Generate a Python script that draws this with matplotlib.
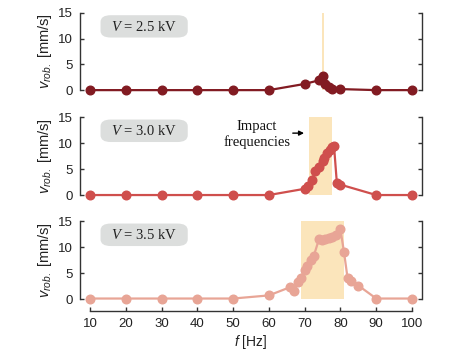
import matplotlib
matplotlib.use('Agg')
import matplotlib.pyplot as plt
from matplotlib.patches import FancyBboxPatch

plt.rcParams['font.family'] = 'Liberation Sans'
plt.rcParams['mathtext.fontset'] = 'custom'
plt.rcParams['mathtext.rm'] = 'Liberation Sans'
plt.rcParams['mathtext.it'] = 'Liberation Sans:italic'
plt.rcParams['mathtext.cal'] = 'Liberation Serif:italic'

# data
f1 = [10, 20, 30, 40, 50, 60, 70, 74, 75.2, 75.8, 76.7, 77.6, 80, 90, 100]
v1 = [0, 0, 0, 0, 0, 0, 1.2, 1.9, 2.7, 1.2, 0.6, 0.3, 0.2, 0, 0]

f2 = [10, 20, 30, 40, 50, 60, 70, 71, 72, 73, 74, 75, 75.4, 76.2, 77, 77.6, 78.2, 79, 80, 90, 100]
v2 = [0, 0, 0, 0, 0, 0, 1.2, 1.7, 2.9, 4.7, 5.4, 6.5, 7.1, 8.0, 8.6, 9.2, 9.5, 2.3, 2.0, 0, 0]

f3 = [10, 20, 30, 40, 50, 60, 66, 67, 68, 69, 70, 70.7, 71.8, 72.5, 74, 74.8, 75.8, 76.7,
      77.6, 78.8, 80, 81, 82, 83, 85, 90, 100]
v3 = [0.1, 0.1, 0.1, 0.1, 0.1, 0.7, 2.3, 1.6, 3.2, 4.1, 5.6, 6.3, 7.6, 8.2, 11.5, 11.3, 11.6, 11.8,
      12.0, 12.4, 13.4, 9.0, 4.0, 3.4, 2.6, 0.1, 0.1]

voltages = ['2.5', '3.0', '3.5']
spans = [(74.9, 75.3), (71.1, 77.6), (69.0, 81.0)]
colors = ['#821b22', '#cf4f4d', '#e8a596']
series = [(f1, v1), (f2, v2), (f3, v3)]

fig = plt.figure(figsize=(4.74, 3.55), dpi=100)
positions = [[0.1688, 0.7127, 0.7215, 0.2515],
             [0.1688, 0.4169, 0.7215, 0.2535],
             [0.1688, 0.1239, 0.7215, 0.2535]]

spine_col = '#333333'
for i, pos in enumerate(positions):
    ax = fig.add_axes(pos)
    f, v = series[i]
    ax.axvspan(spans[i][0], spans[i][1], ymin=2.3 / 17.3, ymax=1.0, color='#fbe5bb', lw=0, zorder=0)
    ax.plot(f, v, color=colors[i], lw=1.6, marker='o', ms=6.2, zorder=3)
    ax.set_xlim(7.2, 102.8)
    ax.set_ylim(-2.3, 15)
    ax.set_yticks([0, 5, 10, 15])
    ax.spines['top'].set_visible(False)
    ax.spines['left'].set_bounds(0, 15)
    ax.spines['right'].set_bounds(0, 15)
    for s in ['left', 'right', 'bottom']:
        ax.spines[s].set_color(spine_col)
        ax.spines[s].set_linewidth(1.0)
    ax.tick_params(axis='y', direction='in', length=3, width=1, color=spine_col,
                   right=True, labelsize=9.5, pad=5, labelcolor='#222222')
    if i < 2:
        ax.spines['bottom'].set_visible(False)
        ax.set_xticks([])
    else:
        ax.spines['bottom'].set_bounds(10, 100)
        ax.set_xticks(range(10, 101, 10))
        ax.tick_params(axis='x', direction='in', length=3, width=1, color=spine_col,
                       labelsize=9.5, pad=5, labelcolor='#222222')
        ax.set_xlabel('$f$ [Hz]', fontsize=10, labelpad=2, color='#222222')
    ax.set_ylabel('$v_{rob.}$ [mm/s]', fontsize=10.5, color='#222222')
    ax.yaxis.set_label_coords(-0.075, (2.3 + 7.5) / 17.3)

    box = FancyBboxPatch((0.06, 0.722), 0.255, 0.25, transform=ax.transAxes,
                         boxstyle='round,pad=0,rounding_size=0.03', fc='#dcdedd', ec='none',
                         zorder=1, mutation_aspect=2.5)
    ax.add_patch(box)
    ax.text(0.187, 0.845, r'$\mathcal{V}$ = ' + voltages[i] + ' kV', transform=ax.transAxes,
            ha='center', va='center', family='Liberation Serif', fontsize=10.5, color='#222222', zorder=2)

    if i == 1:
        ax.annotate('', xy=(70.6, 11.9), xytext=(65.9, 11.9),
                    arrowprops=dict(arrowstyle='-|>', color='black', lw=1.0, mutation_scale=7))
        ax.text(56.6, 11.6, 'Impact\nfrequencies', ha='center', va='center',
                family='Liberation Serif', fontsize=10.5, linespacing=1.2, color='#111111')

fig.savefig('out.png', dpi=100)
